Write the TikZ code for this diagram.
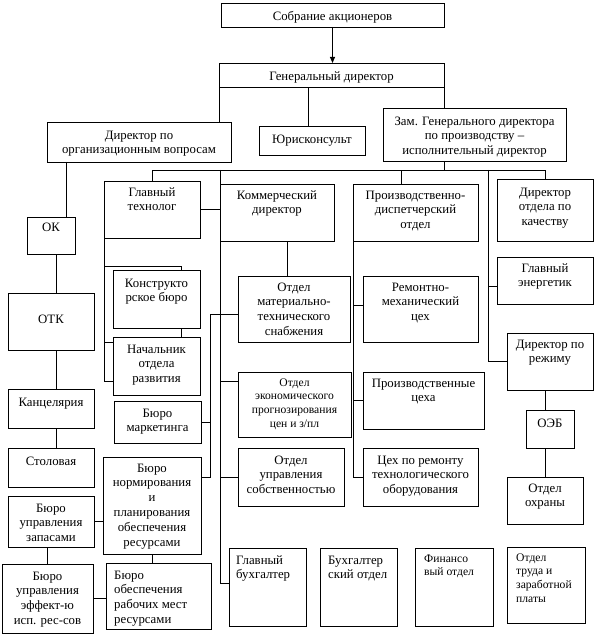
\documentclass[tikz,border=0pt]{standalone}
\usepackage{fontspec}
\setmainfont{Liberation Serif}
\usetikzlibrary{calc,arrows.meta}
\newcommand\fs{\fontsize{12.8}{14.8}\selectfont}
\newcommand\fsm{\fontsize{11.6}{13.6}\selectfont}
\tikzset{
  box/.style={draw, line width=0.9pt, inner sep=0pt, outer sep=0pt},
  lbl/.style={inner sep=0pt, align=center, font=\fs},
  lbll/.style={inner sep=0pt, align=left, font=\fs},
  small/.style={font=\fsm},
  conn/.style={line width=0.9pt},
}
\newcommand\B[5]{\node[box, anchor=north west, minimum width=#4pt-#2pt, minimum height=#5pt-#3pt] (#1) at (#2,#3) {};}
\newcommand\T[4][]{\node[lbl,#1, anchor=north] (#2t) at ($(#2.north)+(0,#3)$) {\strut #4};}
\newcommand\TL[5][]{\node[lbll,#1, anchor=north west] (#2t) at ($(#2.north west)+(#3,#4)$) {\strut #5};}
\begin{document}
\begin{tikzpicture}[x=1pt,y=-1pt]
\useasboundingbox (0,0) rectangle (598,639);
% boxes
\B{sobr}{221}{3}{444}{27}
\B{gen}{219}{63}{444}{87}
\B{org}{47}{122}{231}{162}
\B{jur}{259}{126}{365}{155}
\B{zam}{383}{108}{566}{161}
\B{glt}{104}{181}{200}{238}
\B{kom}{220}{184}{334}{241}
\B{pdo}{353}{184}{478}{241}
\B{kach}{497}{179}{593}{241}
\B{en}{497}{257}{593}{304}
\B{rez}{507}{333}{593}{390}
\B{ok}{27}{217}{75}{254}
\B{otk}{8}{293}{94}{350}
\B{kanc}{8}{389}{94}{428}
\B{stol}{8}{448}{94}{487}
\B{zap}{8}{496}{94}{547}
\B{eff}{2}{564}{93}{633}
\B{obesp}{106}{563}{211}{629}
\B{norm}{103}{457}{201}{554}
\B{kon}{113}{270}{200}{328}
\B{nach}{113}{337}{200}{395}
\B{mark}{114}{401}{201}{443}
\B{mts}{238}{276}{350}{342}
\B{econ}{238}{372}{351}{437}
\B{sobst}{238}{448}{344}{506}
\B{rem}{363}{276}{478}{342}
\B{prc}{363}{372}{484}{429}
\B{cex}{363}{448}{478}{506}
\B{oeb}{526}{410}{574}{448}
\B{ohr}{507}{477}{583}{524}
\B{glbuh}{229}{548}{306}{626}
\B{buh}{320}{548}{397}{626}
\B{fin}{415}{548}{493}{626}
\B{trud}{507}{547}{585}{623}
% texts
\T{sobr}{6.6}{Собрание акционеров}
\T{gen}{6.6}{Генеральный директор}
\T{org}{6.6}{Директор по\\организационным вопросам}
\T{jur}{6.6}{Юрисконсульт}
\T{zam}{6.6}{Зам. Генерального директора\\по производству –\\исполнительный директор}
\T{glt}{4.6}{Главный\\технолог}
\T{kom}{4.6}{Коммерческий\\директор}
\T{pdo}{4.6}{Производственно-\\диспетчерский\\отдел}
\T{kach}{6.6}{Директор\\отдела по\\качеству}
\T{en}{4.6}{Главный\\энергетик}
\T{rez}{4.6}{Директор по\\режиму}
\T{ok}{3.6}{ОК}
\T{otk}{19.6}{ОТК}
\T{kanc}{6.6}{Канцелярия}
\T{stol}{6.6}{Столовая}
\T{zap}{5.6}{Бюро\\управления\\запасами}
\T{eff}{5.6}{Бюро\\управления\\эффект-ю\\исп. рес-сов}
\TL{obesp}{8}{5.6}{Бюро\\обеспечения\\рабочих мест\\ресурсами}
\T{norm}{4.6}{Бюро\\нормирования\\и\\планирования\\обеспечения\\ресурсами}
\T{kon}{6.6}{Конструкто\\рское бюро}
\T{nach}{5.6}{Начальник\\отдела\\развития}
\T{mark}{5.6}{Бюро\\маркетинга}
\T{mts}{4.6}{Отдел\\материально-\\технического\\снабжения}
\T[small]{econ}{4.6}{Отдел\\экономического\\прогнозирования\\цен и з/пл}
\T{sobst}{5.6}{Отдел\\управления\\собственностью}
\T{rem}{4.6}{Ремонтно-\\механический\\цех}
\T{prc}{4.6}{Производственные\\цеха}
\T{cex}{5.6}{Цех по ремонту\\технологического\\оборудования}
\T{oeb}{6.6}{ОЭБ}
\T{ohr}{4.6}{Отдел\\охраны}
\TL{glbuh}{7}{5.6}{Главный\\бухгалтер}
\TL{buh}{8}{5.6}{Бухгалтер\\ский отдел}
\TL[small]{fin}{9}{4.6}{Финансо\\вый отдел}
\TL[small]{trud}{9}{4.6}{Отдел\\труда и\\заработной\\платы}
% connectors
\coordinate (busL) at (152,170);
\coordinate (busR) at (545,170);
\draw[conn,-{Triangle[length=6pt,width=5pt]}] (sobr.south) -- (sobr.south |- gen.north);
\draw[conn] (gen.south west) -- (gen.south west |- org.north);
\draw[conn] ($(jur.north)+(-4,0)$) coordinate (j1) -- (j1 |- gen.south);
\draw[conn] (gen.south east) -- (gen.south east |- zam.north);
\draw[conn] (zam.south -| gen.south east) -- (gen.south east |- busL);
\draw[conn] (busL) -- (busR);
\draw[conn] (glt.north) -- (glt.north |- busL);
\draw[conn] (kom.north west |- busL) -- ($(glbuh.north west)+(-9,35)$) coordinate (gb) -- (gb -| glbuh.west);
\draw[conn] (glt.east) -- (glt.east -| kom.west);
\draw[conn] ($(kom.south west)+(67,0)$) coordinate (k3) -- (k3 |- mts.north);
\draw[conn] ($(econ.north west)+(0,9)$) coordinate (e1) -- (e1 -| kom.west);
\draw[conn] (sobst.west) -- (sobst.west -| kom.west);
% Glavny tekhnolog column
\coordinate (n1) at ($(nach.north west)+(0,5)$);
\coordinate (n2) at ($(nach.south west)+(0,-14)$);
\coordinate (k1) at ($(kon.north east)+(-19,-4)$);
\draw[conn] (glt.south west) -- (glt.south west |- n2) -- (n2);
\draw[conn] (glt.south west |- n1) -- (n1);
\draw[conn] (glt.south west |- k1) -- (k1) -- (k1 |- kon.north);
\draw[conn] ($(kon.south east)+(-19,0)$) coordinate (k2) -- (k2 |- nach.north);
% x=210 line
\coordinate (m1) at ($(mts.north west)+(0,38)$);
\coordinate (x210) at ($(norm.north east)+(9,20)$);
\draw[conn] (m1) -- (m1 -| x210) -- (x210) -- (x210 -| norm.east);
\draw[conn] (mark.east) -- (mark.east -| x210);
% left column
\draw[conn] ($(org.south west)+(19,0)$) coordinate (o1) -- (o1 |- ok.north);
\draw[conn] ($(ok.south)+(5,0)$) coordinate (o2) -- (o2 |- otk.north);
\draw[conn] ($(otk.south)+(5,0)$) coordinate (o3) -- (o3 |- kanc.north);
\draw[conn] ($(kanc.south)+(5,0)$) coordinate (o4) -- (o4 |- stol.north);
\draw[conn] (zap.east) -- (zap.east -| norm.west);
\draw[conn] ($(zap.south)+(-4,0)$) coordinate (z1) -- (z1 |- eff.north);
\draw[conn] (eff.east) -- (eff.east -| obesp.west);
\draw[conn] (norm.south) -- (norm.south |- obesp.north);
% PDO column
\draw[conn] ($(pdo.north west)+(48,0)$) coordinate (p0) -- (p0 |- busL);
\draw[conn] (pdo.south west) -- (pdo.south west |- cex.west) -- (cex.west);
\draw[conn] ($(rem.north west)+(0,29)$) coordinate (r1) -- (r1 -| pdo.west);
\draw[conn] (prc.west) -- (prc.west -| pdo.west);
% right column
\coordinate (r0) at ($(rez.west)+(-19,0)$);
\draw[conn] (r0 |- busL) -- (r0) -- (rez.west);
\draw[conn] ($(en.north west)+(0,29)$) coordinate (en1) -- (en1 -| r0);
\draw[conn] (kach.north) -- (kach.north |- busR);
\draw[conn] ($(rez.south)+(-5,0)$) coordinate (q1) -- (q1 |- oeb.north);
\draw[conn] ($(oeb.south)+(-5,0)$) coordinate (q2) -- (q2 |- ohr.north);
\end{tikzpicture}
\end{document}
